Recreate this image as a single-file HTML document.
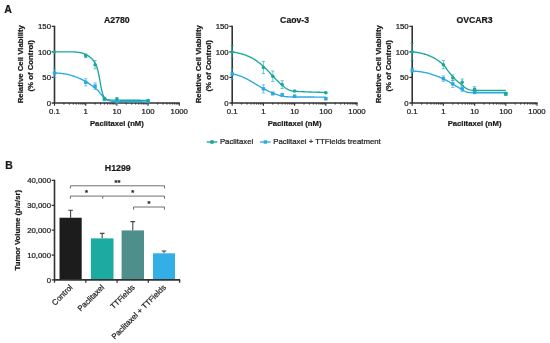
<!DOCTYPE html><html><head><meta charset="utf-8"><title>Figure</title><style>html,body{margin:0;padding:0;background:#fff}svg{display:block}text{font-family:"Liberation Sans",Arial,sans-serif;fill:#1a1a1a;stroke:#1a1a1a;stroke-width:0.22px;stroke-linejoin:round}.b{font-weight:bold}</style></head><body>
<svg width="550" height="343" viewBox="0 0 550 343">
<rect width="550" height="343" fill="#fff"/>
<defs><filter id="soft" x="0" y="0" width="100%" height="100%" filterUnits="userSpaceOnUse"><feGaussianBlur stdDeviation="0.32"/></filter></defs><g filter="url(#soft)">
<text class="b" x="4.2" y="12.8" font-size="10.6">A</text>
<text class="b" x="5.2" y="168.9" font-size="10.4">B</text>
<g stroke="#333" stroke-width="1.6" fill="none">
<path d="M54.50 25.75V103.80M53.70 103.00H179.90"/>
<path d="M51.70 103.00H54.50M51.70 77.45H54.50M51.70 51.90H54.50M51.70 26.35H54.50" stroke-width="1.3"/>
<path d="M54.50 103.00v2.8M63.89 103.00v1.6M69.39 103.00v1.6M73.28 103.00v1.6M76.31 103.00v1.6M78.78 103.00v1.6M80.87 103.00v1.6M82.68 103.00v1.6M84.27 103.00v1.6M85.70 103.00v2.8M95.09 103.00v1.6M100.59 103.00v1.6M104.48 103.00v1.6M107.51 103.00v1.6M109.98 103.00v1.6M112.07 103.00v1.6M113.88 103.00v1.6M115.47 103.00v1.6M116.90 103.00v2.8M126.29 103.00v1.6M131.79 103.00v1.6M135.68 103.00v1.6M138.71 103.00v1.6M141.18 103.00v1.6M143.27 103.00v1.6M145.08 103.00v1.6M146.67 103.00v1.6M148.10 103.00v2.8M157.49 103.00v1.6M162.99 103.00v1.6M166.88 103.00v1.6M169.91 103.00v1.6M172.38 103.00v1.6M174.47 103.00v1.6M176.28 103.00v1.6M177.87 103.00v1.6M179.30 103.00v2.8" stroke-width="1.15"/>
</g>
<path d="M54.50 72.95 L55.25 72.96 L56.00 72.98 L56.75 73.01 L57.50 73.06 L58.25 73.11 L59.00 73.18 L59.75 73.25 L60.50 73.33 L61.25 73.42 L62.00 73.51 L62.75 73.61 L63.50 73.71 L64.25 73.81 L65.00 73.91 L65.75 74.03 L66.50 74.17 L67.25 74.33 L68.00 74.51 L68.75 74.70 L69.50 74.90 L70.25 75.11 L71.00 75.33 L71.75 75.56 L72.50 75.78 L73.25 76.01 L74.00 76.26 L74.75 76.53 L75.50 76.80 L76.25 77.09 L77.00 77.38 L77.75 77.69 L78.50 78.00 L79.25 78.32 L80.00 78.64 L80.75 78.98 L81.50 79.32 L82.25 79.68 L83.00 80.05 L83.75 80.44 L84.50 80.83 L85.25 81.24 L86.00 81.67 L86.75 82.11 L87.50 82.58 L88.25 83.08 L89.00 83.60 L89.75 84.13 L90.50 84.67 L91.25 85.21 L92.00 85.76 L92.75 86.32 L93.50 86.89 L94.25 87.47 L95.00 88.06 L95.75 88.63 L96.50 89.21 L97.25 89.82 L98.00 90.50 L98.75 91.31 L99.50 92.28 L100.25 93.30 L101.00 94.25 L101.75 95.21 L102.50 96.18 L103.25 97.09 L104.00 97.88 L104.75 98.49 L105.50 99.02 L106.25 99.50 L107.00 99.92 L107.75 100.26 L108.50 100.50 L109.25 100.68 L110.00 100.85 L110.75 101.01 L111.50 101.15 L112.25 101.26 L113.00 101.36 L113.75 101.43 L114.50 101.48 L115.25 101.51 L116.00 101.52 L116.75 101.54 L117.50 101.55 L118.25 101.56 L119.00 101.58 L119.75 101.59 L120.50 101.60 L121.25 101.62 L122.00 101.63 L122.75 101.64 L123.50 101.65 L124.25 101.66 L125.00 101.67 L125.75 101.68 L126.50 101.69 L127.25 101.70 L128.00 101.70 L128.75 101.71 L129.50 101.72 L130.25 101.73 L131.00 101.73 L131.75 101.74 L132.50 101.75 L133.25 101.75 L134.00 101.76 L134.75 101.76 L135.50 101.77 L136.25 101.77 L137.00 101.77 L137.75 101.78 L138.50 101.78 L139.25 101.78 L140.00 101.79 L140.75 101.79 L141.50 101.79 L142.25 101.79 L143.00 101.80 L143.75 101.80 L144.50 101.80 L145.25 101.80 L146.00 101.80 L146.75 101.80 L147.50 101.80 L148.10 101.80" fill="none" stroke="#2ca9e1" stroke-width="1.35" stroke-linejoin="round" stroke-linecap="round"/>
<path d="M54.50 51.80 L55.25 51.80 L56.00 51.80 L56.75 51.80 L57.50 51.80 L58.25 51.80 L59.00 51.81 L59.75 51.81 L60.50 51.81 L61.25 51.81 L62.00 51.82 L62.75 51.82 L63.50 51.82 L64.25 51.83 L65.00 51.83 L65.75 51.84 L66.50 51.84 L67.25 51.85 L68.00 51.85 L68.75 51.86 L69.50 51.87 L70.25 51.88 L71.00 51.88 L71.75 51.89 L72.50 51.90 L73.25 51.92 L74.00 51.95 L74.75 52.00 L75.50 52.06 L76.25 52.13 L77.00 52.21 L77.75 52.30 L78.50 52.40 L79.25 52.50 L80.00 52.62 L80.75 52.76 L81.50 52.95 L82.25 53.17 L83.00 53.44 L83.75 53.73 L84.50 54.04 L85.25 54.37 L86.00 54.71 L86.75 55.07 L87.50 55.46 L88.25 55.89 L89.00 56.37 L89.75 56.91 L90.50 57.49 L91.25 58.13 L92.00 58.88 L92.75 59.76 L93.50 60.74 L94.25 61.84 L95.00 63.03 L95.75 64.37 L96.50 66.00 L97.25 68.07 L98.00 71.02 L98.75 74.51 L99.50 78.31 L100.25 82.74 L101.00 86.95 L101.75 90.24 L102.50 93.19 L103.25 95.58 L104.00 96.98 L104.75 97.88 L105.50 98.58 L106.25 99.05 L107.00 99.34 L107.75 99.57 L108.50 99.77 L109.25 99.92 L110.00 100.03 L110.75 100.09 L111.50 100.11 L112.25 100.12 L113.00 100.13 L113.75 100.14 L114.50 100.15 L115.25 100.15 L116.00 100.16 L116.75 100.17 L117.50 100.18 L118.25 100.19 L119.00 100.19 L119.75 100.20 L120.50 100.21 L121.25 100.21 L122.00 100.22 L122.75 100.22 L123.50 100.23 L124.25 100.23 L125.00 100.24 L125.75 100.24 L126.50 100.25 L127.25 100.25 L128.00 100.26 L128.75 100.26 L129.50 100.26 L130.25 100.27 L131.00 100.27 L131.75 100.27 L132.50 100.28 L133.25 100.28 L134.00 100.28 L134.75 100.28 L135.50 100.29 L136.25 100.29 L137.00 100.29 L137.75 100.29 L138.50 100.29 L139.25 100.29 L140.00 100.29 L140.75 100.30 L141.50 100.30 L142.25 100.30 L143.00 100.30 L143.75 100.30 L144.50 100.30 L145.25 100.30 L146.00 100.30 L146.75 100.30 L147.50 100.30 L148.10 100.30" fill="none" stroke="#1ba79d" stroke-width="1.35" stroke-linejoin="round" stroke-linecap="round"/>
<path d="M54.50 68.66V77.55M52.80 68.66h3.4M52.80 77.55h3.4M85.70 78.73V85.88M84.00 78.73h3.4M84.00 85.88h3.4M95.09 82.92V89.36M93.39 82.92h3.4M93.39 89.36h3.4M104.48 98.40V100.44M102.78 98.40h3.4M102.78 100.44h3.4M116.90 101.11V102.64M115.20 101.11h3.4M115.20 102.64h3.4M148.10 101.06V102.08M146.40 101.06h3.4M146.40 102.08h3.4" stroke="#2ca9e1" stroke-width="0.75" fill="none" opacity="0.8"/>
<rect x="52.80" y="71.41" width="3.4" height="3.4" fill="#2ca9e1"/>
<rect x="84.00" y="80.60" width="3.4" height="3.4" fill="#2ca9e1"/>
<rect x="93.39" y="84.44" width="3.4" height="3.4" fill="#2ca9e1"/>
<rect x="102.78" y="97.72" width="3.4" height="3.4" fill="#2ca9e1"/>
<rect x="115.20" y="100.18" width="3.4" height="3.4" fill="#2ca9e1"/>
<rect x="146.40" y="99.87" width="3.4" height="3.4" fill="#2ca9e1"/>
<path d="M85.70 53.89V57.57M84.00 53.89h3.4M84.00 57.57h3.4M95.09 60.59V68.76M93.39 60.59h3.4M93.39 68.76h3.4M104.48 97.38V99.42M102.78 97.38h3.4M102.78 99.42h3.4M116.90 97.63V100.19M115.20 97.63h3.4M115.20 100.19h3.4M148.10 99.93V100.96M146.40 99.93h3.4M146.40 100.96h3.4" stroke="#1ba79d" stroke-width="0.75" fill="none" opacity="0.8"/>
<circle cx="54.50" cy="51.90" r="1.75" fill="#1ba79d"/>
<circle cx="85.70" cy="55.73" r="1.75" fill="#1ba79d"/>
<circle cx="95.09" cy="64.67" r="1.75" fill="#1ba79d"/>
<circle cx="104.48" cy="98.40" r="1.75" fill="#1ba79d"/>
<circle cx="116.90" cy="98.91" r="1.75" fill="#1ba79d"/>
<circle cx="148.10" cy="100.44" r="1.75" fill="#1ba79d"/>
<text x="51.00" y="105.60" font-size="7.8" text-anchor="end">0</text>
<text x="51.00" y="80.05" font-size="7.8" text-anchor="end">50</text>
<text x="51.00" y="54.50" font-size="7.8" text-anchor="end">100</text>
<text x="51.00" y="28.95" font-size="7.8" text-anchor="end">150</text>
<text x="54.50" y="113.70" font-size="7.8" text-anchor="middle">0.1</text>
<text x="85.70" y="113.70" font-size="7.8" text-anchor="middle">1</text>
<text x="116.90" y="113.70" font-size="7.8" text-anchor="middle">10</text>
<text x="148.10" y="113.70" font-size="7.8" text-anchor="middle">100</text>
<text x="179.30" y="113.70" font-size="7.8" text-anchor="middle">1000</text>
<text class="b" x="116.90" y="126.2" font-size="7.7" text-anchor="middle">Paclitaxel (nM)</text>
<text class="b" x="116.90" y="23.2" font-size="8.7" text-anchor="middle">A2780</text>
<text class="b" transform="translate(23.20 64.2) rotate(-90)" font-size="7.8" text-anchor="middle">Relative Cell Viability</text>
<text class="b" transform="translate(32.80 65.8) rotate(-90)" font-size="7.8" text-anchor="middle">(% of Control)</text>
<g stroke="#333" stroke-width="1.6" fill="none">
<path d="M232.20 25.75V103.80M231.40 103.00H357.60"/>
<path d="M229.40 103.00H232.20M229.40 77.45H232.20M229.40 51.90H232.20M229.40 26.35H232.20" stroke-width="1.3"/>
<path d="M232.20 103.00v2.8M241.59 103.00v1.6M247.09 103.00v1.6M250.98 103.00v1.6M254.01 103.00v1.6M256.48 103.00v1.6M258.57 103.00v1.6M260.38 103.00v1.6M261.97 103.00v1.6M263.40 103.00v2.8M272.79 103.00v1.6M278.29 103.00v1.6M282.18 103.00v1.6M285.21 103.00v1.6M287.68 103.00v1.6M289.77 103.00v1.6M291.58 103.00v1.6M293.17 103.00v1.6M294.60 103.00v2.8M303.99 103.00v1.6M309.49 103.00v1.6M313.38 103.00v1.6M316.41 103.00v1.6M318.88 103.00v1.6M320.97 103.00v1.6M322.78 103.00v1.6M324.37 103.00v1.6M325.80 103.00v2.8M335.19 103.00v1.6M340.69 103.00v1.6M344.58 103.00v1.6M347.61 103.00v1.6M350.08 103.00v1.6M352.17 103.00v1.6M353.98 103.00v1.6M355.57 103.00v1.6M357.00 103.00v2.8" stroke-width="1.15"/>
</g>
<path d="M232.20 73.85 L232.95 74.00 L233.70 74.16 L234.45 74.33 L235.20 74.52 L235.95 74.72 L236.70 74.93 L237.45 75.15 L238.20 75.38 L238.95 75.62 L239.70 75.87 L240.45 76.13 L241.20 76.42 L241.95 76.72 L242.70 77.04 L243.45 77.36 L244.20 77.70 L244.95 78.05 L245.70 78.41 L246.45 78.78 L247.20 79.15 L247.95 79.55 L248.70 79.97 L249.45 80.40 L250.20 80.84 L250.95 81.30 L251.70 81.75 L252.45 82.21 L253.20 82.67 L253.95 83.11 L254.70 83.55 L255.45 84.00 L256.20 84.44 L256.95 84.89 L257.70 85.33 L258.45 85.77 L259.20 86.21 L259.95 86.64 L260.70 87.07 L261.45 87.50 L262.20 87.92 L262.95 88.34 L263.70 88.75 L264.45 89.15 L265.20 89.54 L265.95 89.93 L266.70 90.31 L267.45 90.69 L268.20 91.05 L268.95 91.40 L269.70 91.76 L270.45 92.10 L271.20 92.43 L271.95 92.76 L272.70 93.06 L273.45 93.35 L274.20 93.63 L274.95 93.90 L275.70 94.15 L276.45 94.40 L277.20 94.64 L277.95 94.87 L278.70 95.10 L279.45 95.33 L280.20 95.54 L280.95 95.74 L281.70 95.92 L282.45 96.07 L283.20 96.21 L283.95 96.34 L284.70 96.46 L285.45 96.57 L286.20 96.65 L286.95 96.71 L287.70 96.76 L288.45 96.80 L289.20 96.84 L289.95 96.88 L290.70 96.91 L291.45 96.94 L292.20 96.96 L292.95 96.98 L293.70 96.99 L294.45 97.00 L295.20 97.00 L295.95 97.00 L296.70 97.01 L297.45 97.01 L298.20 97.01 L298.95 97.01 L299.70 97.02 L300.45 97.02 L301.20 97.02 L301.95 97.02 L302.70 97.03 L303.45 97.03 L304.20 97.03 L304.95 97.03 L305.70 97.03 L306.45 97.03 L307.20 97.03 L307.95 97.04 L308.70 97.04 L309.45 97.04 L310.20 97.04 L310.95 97.04 L311.70 97.04 L312.45 97.04 L313.20 97.04 L313.95 97.04 L314.70 97.05 L315.45 97.05 L316.20 97.05 L316.95 97.05 L317.70 97.05 L318.45 97.05 L319.20 97.05 L319.95 97.05 L320.70 97.05 L321.45 97.05 L322.20 97.05 L322.95 97.05 L323.70 97.05 L324.45 97.05 L325.20 97.05 L325.80 97.05" fill="none" stroke="#2ca9e1" stroke-width="1.35" stroke-linejoin="round" stroke-linecap="round"/>
<path d="M232.20 51.80 L232.95 51.93 L233.70 52.07 L234.45 52.22 L235.20 52.37 L235.95 52.53 L236.70 52.70 L237.45 52.87 L238.20 53.05 L238.95 53.24 L239.70 53.43 L240.45 53.62 L241.20 53.83 L241.95 54.04 L242.70 54.25 L243.45 54.48 L244.20 54.72 L244.95 54.97 L245.70 55.23 L246.45 55.51 L247.20 55.80 L247.95 56.11 L248.70 56.44 L249.45 56.79 L250.20 57.16 L250.95 57.54 L251.70 57.94 L252.45 58.35 L253.20 58.78 L253.95 59.21 L254.70 59.66 L255.45 60.13 L256.20 60.63 L256.95 61.15 L257.70 61.69 L258.45 62.24 L259.20 62.81 L259.95 63.40 L260.70 64.01 L261.45 64.66 L262.20 65.33 L262.95 66.02 L263.70 66.71 L264.45 67.41 L265.20 68.12 L265.95 68.84 L266.70 69.58 L267.45 70.34 L268.20 71.10 L268.95 71.89 L269.70 72.71 L270.45 73.54 L271.20 74.37 L271.95 75.19 L272.70 75.99 L273.45 76.78 L274.20 77.56 L274.95 78.34 L275.70 79.11 L276.45 79.86 L277.20 80.60 L277.95 81.34 L278.70 82.06 L279.45 82.78 L280.20 83.48 L280.95 84.18 L281.70 84.85 L282.45 85.51 L283.20 86.17 L283.95 86.83 L284.70 87.45 L285.45 88.01 L286.20 88.48 L286.95 88.92 L287.70 89.32 L288.45 89.69 L289.20 90.02 L289.95 90.29 L290.70 90.51 L291.45 90.72 L292.20 90.90 L292.95 91.06 L293.70 91.19 L294.45 91.29 L295.20 91.35 L295.95 91.41 L296.70 91.45 L297.45 91.50 L298.20 91.54 L298.95 91.57 L299.70 91.60 L300.45 91.63 L301.20 91.66 L301.95 91.69 L302.70 91.72 L303.45 91.75 L304.20 91.77 L304.95 91.80 L305.70 91.83 L306.45 91.86 L307.20 91.89 L307.95 91.92 L308.70 91.95 L309.45 91.97 L310.20 92.00 L310.95 92.03 L311.70 92.05 L312.45 92.08 L313.20 92.10 L313.95 92.12 L314.70 92.15 L315.45 92.17 L316.20 92.19 L316.95 92.21 L317.70 92.23 L318.45 92.25 L319.20 92.27 L319.95 92.29 L320.70 92.31 L321.45 92.33 L322.20 92.34 L322.95 92.35 L323.70 92.37 L324.45 92.38 L325.20 92.39 L325.80 92.40" fill="none" stroke="#1ba79d" stroke-width="1.35" stroke-linejoin="round" stroke-linecap="round"/>
<path d="M232.20 68.25V79.70M230.50 68.25h3.4M230.50 79.70h3.4M263.40 84.76V92.93M261.70 84.76h3.4M261.70 92.93h3.4M272.79 91.96V95.03M271.09 91.96h3.4M271.09 95.03h3.4M282.18 93.29V96.36M280.48 93.29h3.4M280.48 96.36h3.4M294.60 95.23V97.28M292.90 95.23h3.4M292.90 97.28h3.4M325.80 97.69V99.73M324.10 97.69h3.4M324.10 99.73h3.4" stroke="#2ca9e1" stroke-width="0.75" fill="none" opacity="0.8"/>
<rect x="230.50" y="72.28" width="3.4" height="3.4" fill="#2ca9e1"/>
<rect x="261.70" y="87.15" width="3.4" height="3.4" fill="#2ca9e1"/>
<rect x="271.09" y="91.80" width="3.4" height="3.4" fill="#2ca9e1"/>
<rect x="280.48" y="93.12" width="3.4" height="3.4" fill="#2ca9e1"/>
<rect x="292.90" y="94.55" width="3.4" height="3.4" fill="#2ca9e1"/>
<rect x="324.10" y="97.01" width="3.4" height="3.4" fill="#2ca9e1"/>
<path d="M232.20 45.56V58.24M230.50 45.56h3.4M230.50 58.24h3.4M263.40 61.35V73.62M261.70 61.35h3.4M261.70 73.62h3.4M272.79 70.96V81.49M271.09 70.96h3.4M271.09 81.49h3.4M282.18 80.72V88.49M280.48 80.72h3.4M280.48 88.49h3.4M294.60 90.58V91.60M292.90 90.58h3.4M292.90 91.60h3.4M325.80 92.12V93.14M324.10 92.12h3.4M324.10 93.14h3.4" stroke="#1ba79d" stroke-width="0.75" fill="none" opacity="0.8"/>
<circle cx="232.20" cy="51.90" r="1.75" fill="#1ba79d"/>
<circle cx="263.40" cy="67.49" r="1.75" fill="#1ba79d"/>
<circle cx="272.79" cy="76.22" r="1.75" fill="#1ba79d"/>
<circle cx="282.18" cy="84.60" r="1.75" fill="#1ba79d"/>
<circle cx="294.60" cy="91.09" r="1.75" fill="#1ba79d"/>
<circle cx="325.80" cy="92.63" r="1.75" fill="#1ba79d"/>
<text x="228.70" y="105.60" font-size="7.8" text-anchor="end">0</text>
<text x="228.70" y="80.05" font-size="7.8" text-anchor="end">50</text>
<text x="228.70" y="54.50" font-size="7.8" text-anchor="end">100</text>
<text x="228.70" y="28.95" font-size="7.8" text-anchor="end">150</text>
<text x="232.20" y="113.70" font-size="7.8" text-anchor="middle">0.1</text>
<text x="263.40" y="113.70" font-size="7.8" text-anchor="middle">1</text>
<text x="294.60" y="113.70" font-size="7.8" text-anchor="middle">10</text>
<text x="325.80" y="113.70" font-size="7.8" text-anchor="middle">100</text>
<text x="357.00" y="113.70" font-size="7.8" text-anchor="middle">1000</text>
<text class="b" x="294.60" y="126.2" font-size="7.7" text-anchor="middle">Paclitaxel (nM)</text>
<text class="b" x="294.60" y="23.2" font-size="8.7" text-anchor="middle">Caov-3</text>
<text class="b" transform="translate(200.90 64.2) rotate(-90)" font-size="7.8" text-anchor="middle">Relative Cell Viability</text>
<text class="b" transform="translate(210.50 65.8) rotate(-90)" font-size="7.8" text-anchor="middle">(% of Control)</text>
<g stroke="#333" stroke-width="1.6" fill="none">
<path d="M412.20 25.75V103.80M411.40 103.00H537.60"/>
<path d="M409.40 103.00H412.20M409.40 77.45H412.20M409.40 51.90H412.20M409.40 26.35H412.20" stroke-width="1.3"/>
<path d="M412.20 103.00v2.8M421.59 103.00v1.6M427.09 103.00v1.6M430.98 103.00v1.6M434.01 103.00v1.6M436.48 103.00v1.6M438.57 103.00v1.6M440.38 103.00v1.6M441.97 103.00v1.6M443.40 103.00v2.8M452.79 103.00v1.6M458.29 103.00v1.6M462.18 103.00v1.6M465.21 103.00v1.6M467.68 103.00v1.6M469.77 103.00v1.6M471.58 103.00v1.6M473.17 103.00v1.6M474.60 103.00v2.8M483.99 103.00v1.6M489.49 103.00v1.6M493.38 103.00v1.6M496.41 103.00v1.6M498.88 103.00v1.6M500.97 103.00v1.6M502.78 103.00v1.6M504.37 103.00v1.6M505.80 103.00v2.8M515.19 103.00v1.6M520.69 103.00v1.6M524.58 103.00v1.6M527.61 103.00v1.6M530.08 103.00v1.6M532.17 103.00v1.6M533.98 103.00v1.6M535.57 103.00v1.6M537.00 103.00v2.8" stroke-width="1.15"/>
</g>
<path d="M412.20 71.05 L412.95 71.08 L413.70 71.12 L414.45 71.17 L415.20 71.22 L415.95 71.28 L416.70 71.35 L417.45 71.42 L418.20 71.49 L418.95 71.57 L419.70 71.66 L420.45 71.75 L421.20 71.86 L421.95 71.97 L422.70 72.10 L423.45 72.23 L424.20 72.38 L424.95 72.53 L425.70 72.68 L426.45 72.84 L427.20 73.02 L427.95 73.21 L428.70 73.42 L429.45 73.64 L430.20 73.88 L430.95 74.13 L431.70 74.38 L432.45 74.64 L433.20 74.90 L433.95 75.15 L434.70 75.40 L435.45 75.65 L436.20 75.91 L436.95 76.17 L437.70 76.43 L438.45 76.71 L439.20 77.00 L439.95 77.30 L440.70 77.63 L441.45 77.97 L442.20 78.32 L442.95 78.69 L443.70 79.05 L444.45 79.42 L445.20 79.79 L445.95 80.17 L446.70 80.55 L447.45 80.95 L448.20 81.36 L448.95 81.78 L449.70 82.22 L450.45 82.67 L451.20 83.13 L451.95 83.58 L452.70 84.04 L453.45 84.49 L454.20 84.96 L454.95 85.42 L455.70 85.88 L456.45 86.34 L457.20 86.78 L457.95 87.21 L458.70 87.63 L459.45 88.04 L460.20 88.44 L460.95 88.85 L461.70 89.27 L462.45 89.71 L463.20 90.22 L463.95 90.76 L464.70 91.25 L465.45 91.64 L466.20 91.88 L466.95 92.08 L467.70 92.25 L468.45 92.40 L469.20 92.51 L469.95 92.58 L470.70 92.62 L471.45 92.64 L472.20 92.67 L472.95 92.68 L473.70 92.69 L474.45 92.70 L475.20 92.70 L475.95 92.70 L476.70 92.70 L477.45 92.70 L478.20 92.70 L478.95 92.70 L479.70 92.70 L480.45 92.70 L481.20 92.70 L481.95 92.70 L482.70 92.70 L483.45 92.70 L484.20 92.70 L484.95 92.70 L485.70 92.70 L486.45 92.70 L487.20 92.70 L487.95 92.70 L488.70 92.70 L489.45 92.70 L490.20 92.70 L490.95 92.70 L491.70 92.70 L492.45 92.70 L493.20 92.70 L493.95 92.70 L494.70 92.70 L495.45 92.70 L496.20 92.70 L496.95 92.70 L497.70 92.70 L498.45 92.70 L499.20 92.70 L499.95 92.70 L500.70 92.70 L501.45 92.70 L502.20 92.70 L502.95 92.70 L503.70 92.70 L504.45 92.70 L505.20 92.70" fill="none" stroke="#2ca9e1" stroke-width="1.35" stroke-linejoin="round" stroke-linecap="round"/>
<path d="M412.20 51.80 L412.95 51.87 L413.70 51.95 L414.45 52.04 L415.20 52.14 L415.95 52.25 L416.70 52.36 L417.45 52.49 L418.20 52.62 L418.95 52.75 L419.70 52.90 L420.45 53.05 L421.20 53.22 L421.95 53.40 L422.70 53.60 L423.45 53.80 L424.20 54.02 L424.95 54.24 L425.70 54.48 L426.45 54.72 L427.20 54.97 L427.95 55.24 L428.70 55.52 L429.45 55.82 L430.20 56.13 L430.95 56.46 L431.70 56.80 L432.45 57.16 L433.20 57.53 L433.95 57.92 L434.70 58.33 L435.45 58.77 L436.20 59.24 L436.95 59.74 L437.70 60.25 L438.45 60.79 L439.20 61.33 L439.95 61.88 L440.70 62.44 L441.45 63.01 L442.20 63.62 L442.95 64.27 L443.70 65.00 L444.45 65.84 L445.20 66.83 L445.95 67.92 L446.70 69.04 L447.45 70.12 L448.20 71.13 L448.95 72.07 L449.70 73.00 L450.45 73.90 L451.20 74.79 L451.95 75.65 L452.70 76.49 L453.45 77.31 L454.20 78.12 L454.95 78.92 L455.70 79.68 L456.45 80.42 L457.20 81.12 L457.95 81.78 L458.70 82.39 L459.45 82.97 L460.20 83.53 L460.95 84.10 L461.70 84.68 L462.45 85.30 L463.20 85.98 L463.95 86.68 L464.70 87.34 L465.45 87.92 L466.20 88.37 L466.95 88.76 L467.70 89.13 L468.45 89.45 L469.20 89.72 L469.95 89.93 L470.70 90.07 L471.45 90.20 L472.20 90.31 L472.95 90.41 L473.70 90.47 L474.45 90.50 L475.20 90.50 L475.95 90.50 L476.70 90.50 L477.45 90.50 L478.20 90.50 L478.95 90.50 L479.70 90.50 L480.45 90.50 L481.20 90.50 L481.95 90.50 L482.70 90.50 L483.45 90.50 L484.20 90.50 L484.95 90.50 L485.70 90.50 L486.45 90.50 L487.20 90.50 L487.95 90.50 L488.70 90.50 L489.45 90.50 L490.20 90.50 L490.95 90.50 L491.70 90.50 L492.45 90.50 L493.20 90.50 L493.95 90.50 L494.70 90.50 L495.45 90.50 L496.20 90.50 L496.95 90.50 L497.70 90.50 L498.45 90.50 L499.20 90.50 L499.95 90.50 L500.70 90.50 L501.45 90.50 L502.20 90.50 L502.95 90.50 L503.70 90.50 L504.45 90.50 L505.20 90.50" fill="none" stroke="#1ba79d" stroke-width="1.35" stroke-linejoin="round" stroke-linecap="round"/>
<path d="M412.20 67.74V72.85M410.50 67.74h3.4M410.50 72.85h3.4M443.40 75.87V81.38M441.70 75.87h3.4M441.70 81.38h3.4M452.79 80.16V87.52M451.09 80.16h3.4M451.09 87.52h3.4M462.18 86.29V91.40M460.48 86.29h3.4M460.48 91.40h3.4M474.60 91.45V93.50M472.90 91.45h3.4M472.90 93.50h3.4M505.80 92.78V95.33M504.10 92.78h3.4M504.10 95.33h3.4" stroke="#2ca9e1" stroke-width="0.75" fill="none" opacity="0.8"/>
<rect x="410.50" y="68.60" width="3.4" height="3.4" fill="#2ca9e1"/>
<rect x="441.70" y="76.93" width="3.4" height="3.4" fill="#2ca9e1"/>
<rect x="451.09" y="82.14" width="3.4" height="3.4" fill="#2ca9e1"/>
<rect x="460.48" y="87.15" width="3.4" height="3.4" fill="#2ca9e1"/>
<rect x="472.90" y="90.77" width="3.4" height="3.4" fill="#2ca9e1"/>
<rect x="504.10" y="92.36" width="3.4" height="3.4" fill="#2ca9e1"/>
<path d="M412.20 43.47V60.33M410.50 43.47h3.4M410.50 60.33h3.4M443.40 60.59V68.76M441.70 60.59h3.4M441.70 68.76h3.4M452.79 74.89V80.52M451.09 74.89h3.4M451.09 80.52h3.4M462.18 79.03V85.57M460.48 79.03h3.4M460.48 85.57h3.4M474.60 86.65V91.76M472.90 86.65h3.4M472.90 91.76h3.4M505.80 92.27V94.82M504.10 92.27h3.4M504.10 94.82h3.4" stroke="#1ba79d" stroke-width="0.75" fill="none" opacity="0.8"/>
<circle cx="412.20" cy="51.90" r="1.75" fill="#1ba79d"/>
<circle cx="443.40" cy="64.67" r="1.75" fill="#1ba79d"/>
<circle cx="452.79" cy="77.71" r="1.75" fill="#1ba79d"/>
<circle cx="462.18" cy="82.30" r="1.75" fill="#1ba79d"/>
<circle cx="474.60" cy="89.20" r="1.75" fill="#1ba79d"/>
<circle cx="505.80" cy="93.55" r="1.75" fill="#1ba79d"/>
<text x="408.70" y="105.60" font-size="7.8" text-anchor="end">0</text>
<text x="408.70" y="80.05" font-size="7.8" text-anchor="end">50</text>
<text x="408.70" y="54.50" font-size="7.8" text-anchor="end">100</text>
<text x="408.70" y="28.95" font-size="7.8" text-anchor="end">150</text>
<text x="412.20" y="113.70" font-size="7.8" text-anchor="middle">0.1</text>
<text x="443.40" y="113.70" font-size="7.8" text-anchor="middle">1</text>
<text x="474.60" y="113.70" font-size="7.8" text-anchor="middle">10</text>
<text x="505.80" y="113.70" font-size="7.8" text-anchor="middle">100</text>
<text x="537.00" y="113.70" font-size="7.8" text-anchor="middle">1000</text>
<text class="b" x="474.60" y="126.2" font-size="7.7" text-anchor="middle">Paclitaxel (nM)</text>
<text class="b" x="474.60" y="23.2" font-size="8.7" text-anchor="middle">OVCAR3</text>
<text class="b" transform="translate(380.90 64.2) rotate(-90)" font-size="7.8" text-anchor="middle">Relative Cell Viability</text>
<text class="b" transform="translate(390.50 65.8) rotate(-90)" font-size="7.8" text-anchor="middle">(% of Control)</text>
<path d="M206.7 142H217.3" stroke="#1ba79d" stroke-width="1.35"/><circle cx="212" cy="142" r="2.1" fill="#1ba79d"/>
<text x="219.9" y="144.4" font-size="7.8">Paclitaxel</text>
<path d="M260 142H270.6" stroke="#2ca9e1" stroke-width="1.35"/><rect x="263.7" y="140.3" width="3.4" height="3.4" fill="#2ca9e1"/>
<text x="273.2" y="144.4" font-size="7.8">Paclitaxel + TTFields treatment</text>
<path d="M70.60 217.72V210.26M68.30 210.26h4.6" stroke="#444" stroke-width="1.1" fill="none"/>
<rect x="59.5" y="217.72" width="22.20" height="62.18" fill="#1e1e1c"/>
<text transform="translate(73.10 287.90) rotate(-45)" font-size="7.9" text-anchor="end">Control</text>
<path d="M102.20 238.37V233.39M99.90 233.39h4.6" stroke="#444" stroke-width="1.1" fill="none"/>
<rect x="90.9" y="238.37" width="22.60" height="41.53" fill="#1aaba1"/>
<text transform="translate(104.70 287.90) rotate(-45)" font-size="7.9" text-anchor="end">Paclitaxel</text>
<path d="M132.80 230.41V221.58M130.50 221.58h4.6" stroke="#444" stroke-width="1.1" fill="none"/>
<rect x="121.6" y="230.41" width="22.40" height="49.49" fill="#4f8f8b"/>
<text transform="translate(135.30 287.90) rotate(-45)" font-size="7.9" text-anchor="end">TTFields</text>
<path d="M164.00 253.29V250.93M161.70 250.93h4.6" stroke="#444" stroke-width="1.1" fill="none"/>
<rect x="153.0" y="253.29" width="22.00" height="26.61" fill="#33afe6"/>
<text transform="translate(166.50 287.90) rotate(-45)" font-size="7.9" text-anchor="end">Paclitaxel + TTFields</text>
<g stroke="#333" stroke-width="1.6" fill="none">
<path d="M54.5 179.82V280.70M53.7 279.9H180.2"/>
<path d="M51.70 279.90H54.5M51.70 255.03H54.5M51.70 230.16H54.5M51.70 205.29H54.5M51.70 180.42H54.5M54.5 279.9v2.8M85.8 279.9v2.8M117.1 279.9v2.8M148.3 279.9v2.8M179.6 279.9v2.8" stroke-width="1.3"/>
</g>
<text x="51.00" y="282.70" font-size="7.8" text-anchor="end">0</text>
<text x="51.00" y="257.83" font-size="7.8" text-anchor="end">10,000</text>
<text x="51.00" y="232.96" font-size="7.8" text-anchor="end">20,000</text>
<text x="51.00" y="208.09" font-size="7.8" text-anchor="end">30,000</text>
<text x="51.00" y="183.22" font-size="7.8" text-anchor="end">40,000</text>
<text class="b" transform="translate(20.2 230.2) rotate(-90)" font-size="7.7" text-anchor="middle">Tumor Volume (p/s/sr)</text>
<text class="b" x="117.8" y="171.3" font-size="8.8" text-anchor="middle">H1299</text>
<g stroke="#606060" stroke-width="0.9" fill="none">
<path d="M70.4 188.5V185.8H164.5V188.5"/>
<path d="M70.4 198.8V196.1H164.5V198.8M102.7 196.1V198.8"/>
<path d="M133.5 209.7V207.0H164.5V209.7"/>
</g>
<text class="b" x="117.4" y="184.8" font-size="7.5" text-anchor="middle">**</text>
<text class="b" x="86.4" y="195.2" font-size="7.5" text-anchor="middle">*</text>
<text class="b" x="132.8" y="195.2" font-size="7.5" text-anchor="middle">*</text>
<text class="b" x="148.9" y="205.6" font-size="7.5" text-anchor="middle">*</text>
</g></svg></body></html>
